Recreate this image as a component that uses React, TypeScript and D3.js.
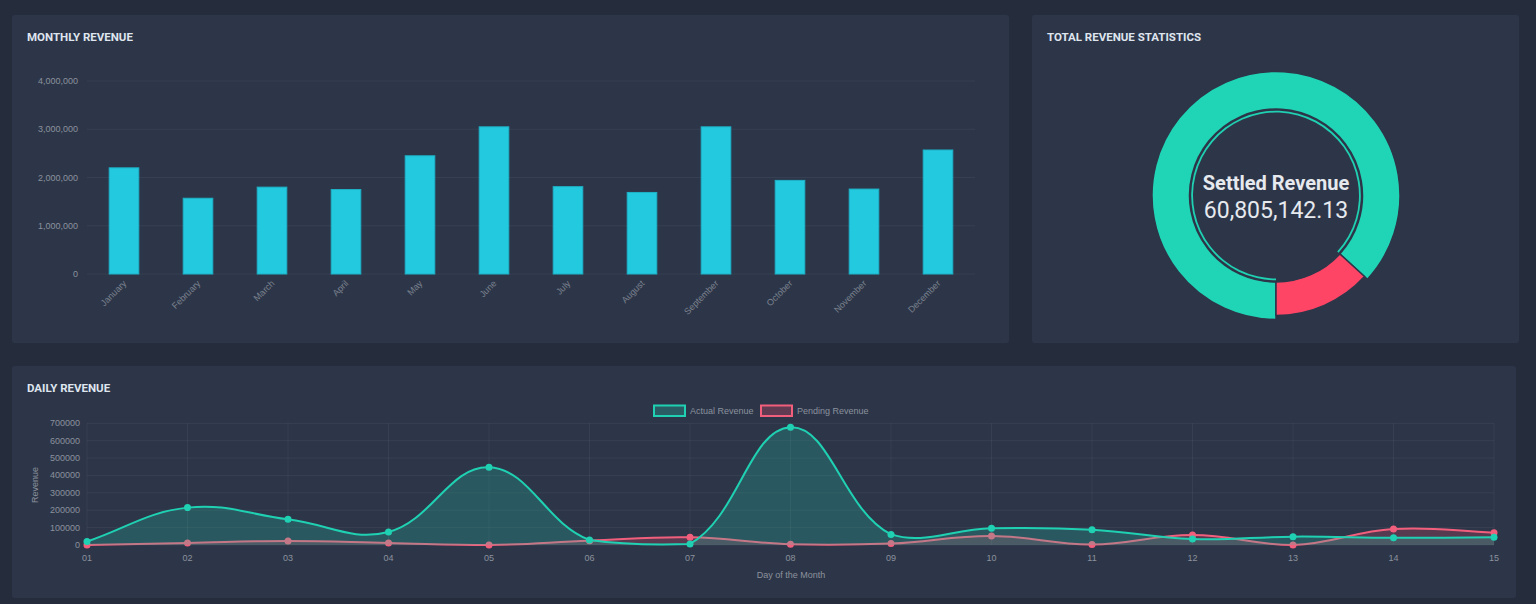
import React from 'react';
import * as d3 from 'd3';

// monthly bars
const months = ['January', 'February', 'March', 'April', 'May', 'June', 'July', 'August', 'September', 'October', 'November', 'December'];
const monthlyRevenue = [2200000, 1570000, 1800000, 1750000, 2450000, 3050000, 1810000, 1690000, 3050000, 1940000, 1760000, 2570000];
const monthlyTicks = [0, 1000000, 2000000, 3000000, 4000000];

// donut
const splitLabels = ['Settled Revenue', 'Pending Revenue'];
const splitValues = [60805142.13, 9250000];

// daily lines
const days = ['01', '02', '03', '04', '05', '06', '07', '08', '09', '10', '11', '12', '13', '14', '15'];
const actualRevenue = [20000, 215000, 148000, 75000, 447000, 29000, 6000, 677000, 61000, 96000, 88000, 34000, 48000, 42000, 44000];
const pendingRevenue = [0, 11500, 23000, 11500, 0, 25000, 44000, 4000, 8000, 52000, 3000, 57000, 0, 92000, 71000];
const dailyTicks = [0, 100000, 200000, 300000, 400000, 500000, 600000, 700000];

const BG = '#252d3d';
const PANEL = '#2d3649';
const TITLE = '#dfe5ee';
const TICK = '#8b919c';
const GRID = 'rgba(255,255,255,0.05)';
const BAR = '#23cadf';
const TEAL = '#1fd1b2';
const PINK = '#f25f7c';
const TICK_FONT = '"Liberation Sans", Arial, sans-serif';
const TITLE_FONT = 'Roboto, "Noto Sans", sans-serif';

// spline with tension + control points kept inside the plot box (chart.js-ish)
const splineCurve = (tension: number, box: { left: number; right: number; top: number; bottom: number }) => {
  const clampX = (v: number) => Math.max(box.left, Math.min(box.right, v));
  const clampY = (v: number) => Math.max(box.top, Math.min(box.bottom, v));
  return (context: any) => {
    let xs: number[] = [];
    let ys: number[] = [];
    let lineFlag: number = NaN;
    return {
      areaStart() { lineFlag = 0; },
      areaEnd() { lineFlag = NaN; },
      lineStart() { xs = []; ys = []; },
      point(x: number, y: number) { xs.push(+x); ys.push(+y); },
      lineEnd() {
        const n = xs.length;
        if (n) {
          lineFlag ? context.lineTo(xs[0], ys[0]) : context.moveTo(xs[0], ys[0]);
          const cps = xs.map((cx, i) => {
            const px = i > 0 ? xs[i - 1] : cx, py = i > 0 ? ys[i - 1] : ys[i];
            const nx = i < n - 1 ? xs[i + 1] : cx, ny = i < n - 1 ? ys[i + 1] : ys[i];
            const d01 = Math.hypot(cx - px, ys[i] - py);
            const d12 = Math.hypot(nx - cx, ny - ys[i]);
            const s01 = d01 + d12 ? d01 / (d01 + d12) : 0;
            const s12 = d01 + d12 ? d12 / (d01 + d12) : 0;
            const fa = tension * s01, fb = tension * s12;
            return {
              px: clampX(cx - fa * (nx - px)), py: clampY(ys[i] - fa * (ny - py)),
              nx: clampX(cx + fb * (nx - px)), ny: clampY(ys[i] + fb * (ny - py)),
            };
          });
          for (let i = 1; i < n; i++) {
            context.bezierCurveTo(cps[i - 1].nx, cps[i - 1].ny, cps[i].px, cps[i].py, xs[i], ys[i]);
          }
        }
        if (lineFlag || (lineFlag !== 0 && n === 1)) context.closePath();
        lineFlag = 1 - lineFlag;
      },
    };
  };
};

const Panel: React.FC<{ x: number; y: number; w: number; h: number; title: string }> = ({ x, y, w, h, title }) => (
  <g>
    <rect x={x} y={y} width={w} height={h} rx={3} fill={PANEL} />
    <text x={x + 15} y={y + 26} fill={TITLE} fontFamily={TITLE_FONT} fontWeight={700} fontSize={11.5}>{title}</text>
  </g>
);

const MonthlyChart: React.FC = () => {
  const x = d3.scaleBand<string>().domain(months).range([87, 975]).paddingInner(0.6).paddingOuter(0.3);
  const y = d3.scaleLinear().domain([0, 4000000]).range([274, 81]);
  const fmt = d3.format(',');
  return (
    <g>
      {monthlyTicks.map(t => (
        <g key={t}>
          <line x1={87} x2={975} y1={y(t)} y2={y(t)} stroke={GRID} />
          <text x={78} y={y(t) + 3} textAnchor="end" fill={TICK} fontSize={9} fontFamily={TICK_FONT}>{fmt(t)}</text>
        </g>
      ))}
      {months.map((m, i) => (
        <g key={m}>
          <rect x={x(m)!} y={y(monthlyRevenue[i])} width={x.bandwidth()} height={y(0) - y(monthlyRevenue[i])}
            fill={BAR} stroke="#1eb3c8" strokeWidth={1} />
          <text transform={`translate(${x(m)! + x.bandwidth() / 2 + 3},${y(0) + 10}) rotate(-45)`} textAnchor="end"
            fill="#7b828e" fontSize={9} fontFamily={TICK_FONT}>{m}</text>
        </g>
      ))}
    </g>
  );
};

const DonutChart: React.FC = () => {
  const cx = 1276;
  const cy = 195.5;
  const pie = d3.pie<number>().sort(null).startAngle(Math.PI).endAngle(Math.PI * 3);
  const arcs = pie(splitValues);
  const settled = d3.arc<d3.PieArcDatum<number>>().innerRadius(86.5).outerRadius(124);
  const pending = d3.arc<d3.PieArcDatum<number>>().innerRadius(86.5).outerRadius(120);
  const inner = d3.arc<d3.PieArcDatum<number>>().innerRadius(83).outerRadius(84.8);
  return (
    <g transform={`translate(${cx},${cy})`}>
      <path d={inner(arcs[0])!} fill={TEAL} />
      <path d={settled(arcs[0])!} fill="#20d5b6" stroke={PANEL} strokeWidth={1.5} />
      <path d={pending(arcs[1])!} fill="#ff4566" stroke={PANEL} strokeWidth={1.5} />
      <text y={-5.5} textAnchor="middle" fill="#e6e9ee" fontFamily={TITLE_FONT} fontWeight={700} fontSize={20}>{splitLabels[0]}</text>
      <text y={22.5} textAnchor="middle" fill="#e6e9ee" fontFamily={TITLE_FONT} fontSize={23}>{d3.format(',.2f')(splitValues[0])}</text>
    </g>
  );
};

const DailyChart: React.FC = () => {
  const x = d3.scalePoint<string>().domain(days).range([87, 1494]);
  const y = d3.scaleLinear().domain([0, 700000]).range([545, 423.3]);
  const curve = splineCurve(0.4, { left: 87, right: 1494, top: 423.3, bottom: 545 }) as any;
  const line = d3.line<number>().x((_, i) => x(days[i])!).y(d => y(d)).curve(curve);
  const area = d3.area<number>().x((_, i) => x(days[i])!).y0(y(0)).y1(d => y(d)).curve(curve);
  const series = [
    { name: 'Pending Revenue', values: pendingRevenue, color: PINK, fill: 'rgba(255,77,109,0.2)' },
    { name: 'Actual Revenue', values: actualRevenue, color: TEAL, fill: 'rgba(31,209,178,0.22)' },
  ];
  const legend = [
    { name: 'Actual Revenue', color: TEAL, fill: 'rgba(31,209,178,0.25)', x: 654 },
    { name: 'Pending Revenue', color: PINK, fill: 'rgba(255,77,109,0.25)', x: 761 },
  ];
  return (
    <g>
      {dailyTicks.map(t => (
        <g key={t}>
          <line x1={87} x2={1494} y1={y(t)} y2={y(t)} stroke={GRID} />
          <text x={80} y={y(t) + 3} textAnchor="end" fill={TICK} fontSize={9} fontFamily={TICK_FONT}>{t}</text>
        </g>
      ))}
      {days.map(d => (
        <g key={d}>
          <line x1={x(d)} x2={x(d)} y1={423.3} y2={545} stroke={GRID} />
          <text x={x(d)} y={561} textAnchor="middle" fill={TICK} fontSize={9} fontFamily={TICK_FONT}>{d}</text>
        </g>
      ))}
      <text transform="translate(38,485) rotate(-90)" textAnchor="middle" fill={TICK} fontSize={9} fontFamily={TICK_FONT}>Revenue</text>
      <text x={791} y={578} textAnchor="middle" fill={TICK} fontSize={9} fontFamily={TICK_FONT}>Day of the Month</text>
      {series.map(s => (
        <g key={s.name}>
          <path d={area(s.values)!} fill={s.fill} />
          <path d={line(s.values)!} fill="none" stroke={s.color} strokeWidth={2} />
          {s.values.map((v, i) => (
            <circle key={i} cx={x(days[i])} cy={y(v)} r={3.5} fill={s.color} />
          ))}
        </g>
      ))}
      {legend.map(l => (
        <g key={l.name}>
          <rect x={l.x} y={405.5} width={31} height={10.5} fill={l.fill} stroke={l.color} strokeWidth={2} />
          <text x={l.x + 36} y={414} fill={TICK} fontSize={9} fontFamily={TICK_FONT}>{l.name}</text>
        </g>
      ))}
    </g>
  );
};

const App: React.FC = () => (
  <svg width={1536} height={604} style={{ position: 'absolute', left: 0, top: 0, display: 'block' }}>
    <rect width={1536} height={604} fill={BG} />
    <Panel x={12} y={15} w={997} h={328} title="MONTHLY REVENUE" />
    <Panel x={1032} y={15} w={487} h={328} title="TOTAL REVENUE STATISTICS" />
    <Panel x={12} y={366} w={1504} h={232} title="DAILY REVENUE" />
    <MonthlyChart />
    <DonutChart />
    <DailyChart />
  </svg>
);

export default App;
